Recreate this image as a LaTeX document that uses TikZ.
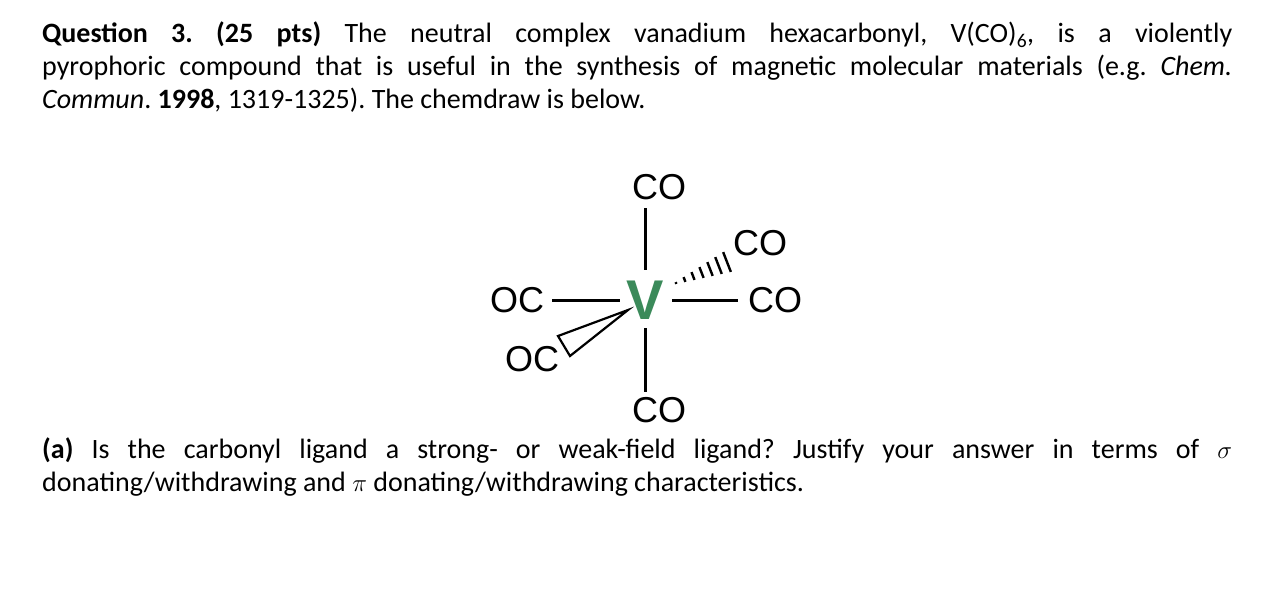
\documentclass[tikz,border=0pt]{standalone}
\usepackage{fontspec}
\setmainfont{Carlito}
\newfontfamily\chem{Liberation Sans}
\definecolor{vgreen}{RGB}{59,138,90}
\hyphenpenalty=10000
\frenchspacing
\begin{document}
\begin{tikzpicture}[x=1pt,y=-1pt,
  para/.style={anchor=north west,inner sep=0pt,text width=1190pt,align=justify,font=\fontsize{28}{33}\selectfont},
  lig/.style={font=\chem\fontsize{36}{36}\selectfont,inner sep=0pt},
  bond/.style={line width=3pt}]
\useasboundingbox (0,0) rectangle (1274,598);
\node[para] (p1) at (42,22) {\textbf{Question 3. (25 pts)} The neutral complex vanadium hexacarbonyl, V(CO)\textsubscript{6}, is a violently\linebreak pyrophoric compound that is useful in the synthesis of magnetic molecular materials (e.g. \textit{Chem.\linebreak Commun}. \textbf{1998}, 1319-1325). The chemdraw is below.};
\node[para] (p2) at (42,438) {\textbf{(a)} Is the carbonyl ligand a strong- or weak-field ligand? Justify your answer in terms of $\sigma$\linebreak donating/withdrawing and $\pi$ donating/withdrawing characteristics.};
\node[lig,font=\chem\bfseries\fontsize{56}{56}\selectfont,text=vgreen] (V) at (645,300) {V};
\node[lig] (ct) at (659,187) {CO};
\node[lig] (cb) at (659,410) {CO};
\node[lig] (cl) at (517,300) {OC};
\node[lig] (cr) at (775,300) {CO};
\node[lig] (cu) at (760,243) {CO};
\node[lig] (cw) at (532,359) {OC};
\coordinate (t1) at (645,208); \coordinate (t2) at (645,270);
\coordinate (b1) at (645,328); \coordinate (b2) at (645,392);
\coordinate (l1) at (552,300); \coordinate (l2) at (620,300);
\coordinate (r1) at (672,300); \coordinate (r2) at (738,300);
\draw[bond] (t1) -- (t2);
\draw[bond] (b1) -- (b2);
\draw[bond] (l1) -- (l2);
\draw[bond] (r1) -- (r2);
\foreach \i in {0,...,6}{
  \pgfmathsetmacro\f{\i/6}
  \pgfmathsetmacro\cx{676+\f*(727-676)}
  \pgfmathsetmacro\cy{283-\f*(283-262)}
  \pgfmathsetmacro\hl{1+\f*10}
  \draw[line width=2.4pt] (\cx-0.35*\hl,\cy-0.9*\hl) -- (\cx+0.35*\hl,\cy+0.9*\hl);
}
\coordinate (wt) at (628,310); \coordinate (wa) at (558,336); \coordinate (wb) at (570,356);
\draw[line width=2.2pt,line join=miter] (wt) -- (wa) -- (wb) -- cycle;
\end{tikzpicture}
\end{document}
